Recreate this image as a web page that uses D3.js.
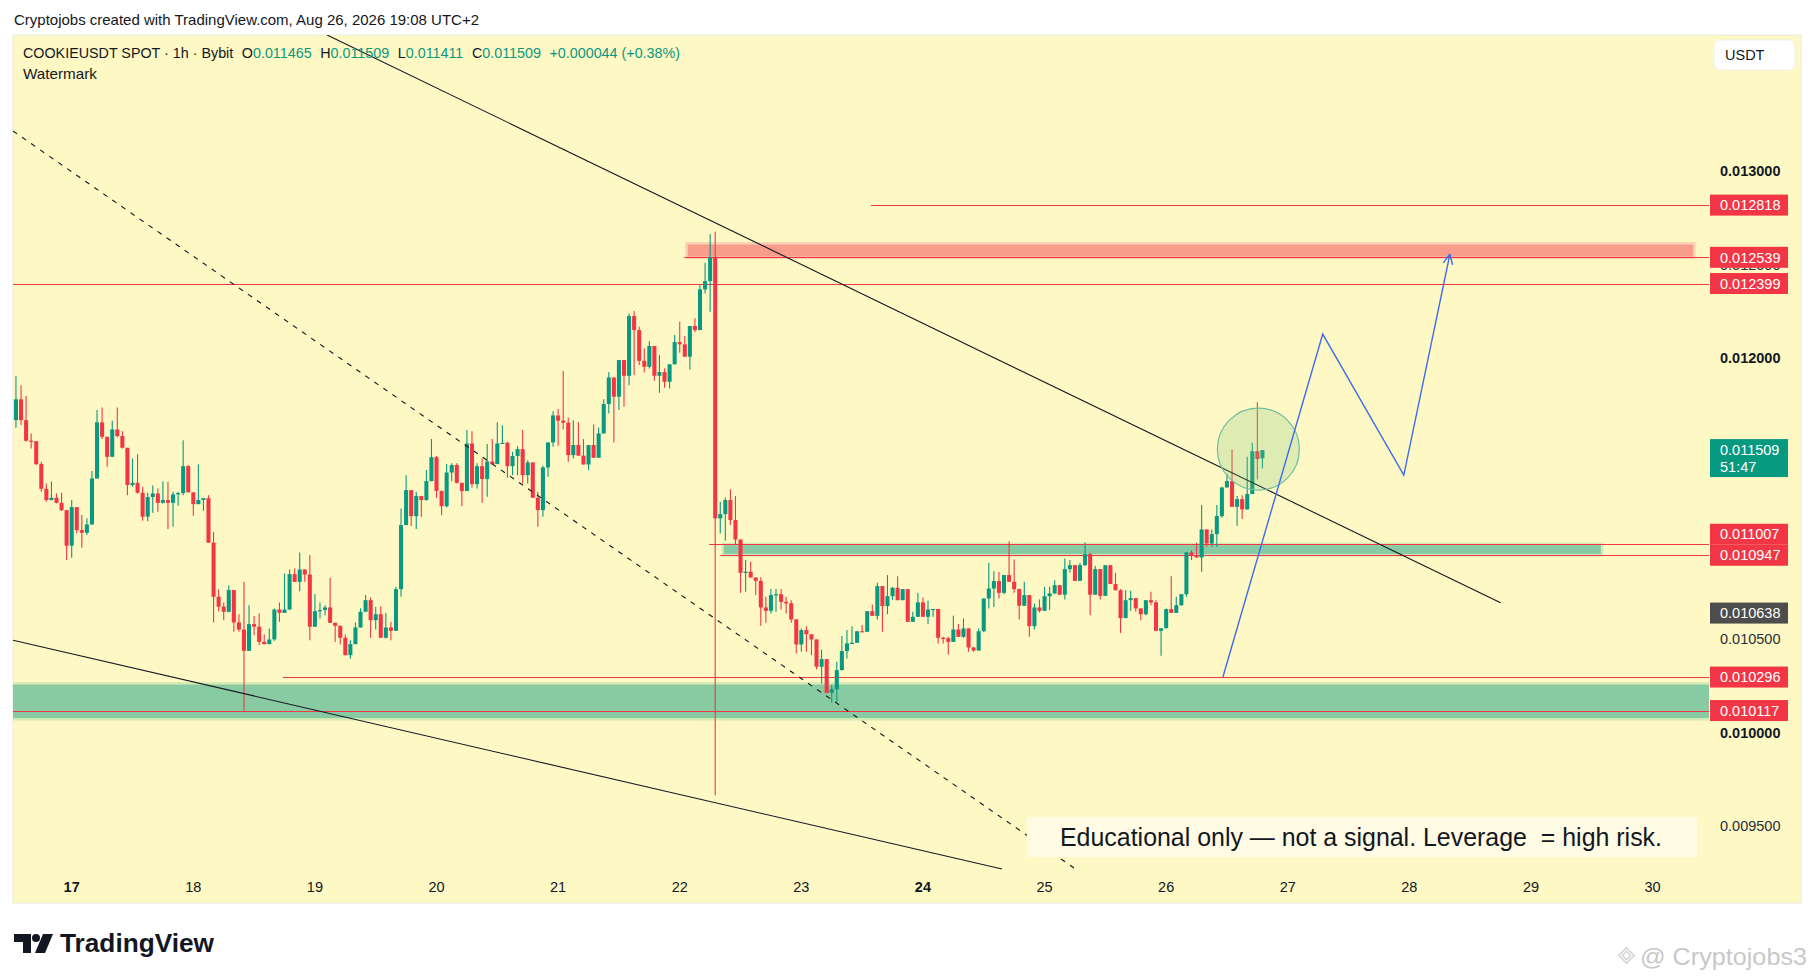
<!DOCTYPE html>
<html>
<head>
<meta charset="utf-8">
<script src="https://cdn.jsdelivr.net/npm/d3@7"></script>
<style>
  html, body { margin: 0; padding: 0; background: #ffffff; }
  svg { display: block; font-family: "Liberation Sans", Arial, sans-serif; }
</style>
</head>
<body>
<svg id="chart"></svg>
<script>
const W = 1814, H = 980;

// ---- data (COOKIEUSDT 1h, Bybit) ----
const firstCandle = new Date(2026, 7, 16, 13);   // one candle per hour from here
const timeWindow = [new Date(2026, 7, 16, 12, 25), new Date(2026, 7, 30, 11, 8)];
const priceWindow = [0.009249, 0.013727];

const opens = [
  0.011669,0.011780,0.011669,0.011559,0.011556,0.011434,0.011302,0.011242,0.011254,0.011227,0.011188,0.010998,
  0.011204,0.011081,0.011067,0.011112,0.011357,0.011657,0.011580,0.011473,0.011619,0.011584,0.011521,0.011322,
  0.011334,0.011281,0.011153,0.011258,0.011277,0.011227,0.011242,0.011227,0.011272,0.011279,0.011423,0.011283,
  0.011220,0.011242,0.011252,0.011014,0.010725,0.010672,0.010645,0.010761,0.010588,0.010550,0.010436,0.010579,
  0.010565,0.010484,0.010472,0.010497,0.010657,0.010639,0.010657,0.010846,0.010805,0.010871,0.010844,0.010565,
  0.010648,0.010654,0.010668,0.010586,0.010570,0.010506,0.010413,0.010472,0.010561,0.010645,0.010707,0.010600,
  0.010632,0.010506,0.010561,0.010543,0.010766,0.011108,0.011295,0.011156,0.011263,0.011242,0.011343,0.011471,
  0.011291,0.011209,0.011389,0.011429,0.011334,0.011290,0.011544,0.011327,0.011423,0.011354,0.011448,0.011434,
  0.011544,0.011548,0.011423,0.011477,0.011514,0.011375,0.011443,0.011254,0.011188,0.011416,0.011550,0.011694,
  0.011666,0.011655,0.011482,0.011536,0.011479,0.011432,0.011536,0.011468,0.011598,0.011755,0.011897,0.011794,
  0.011990,0.011906,0.012225,0.012150,0.011986,0.011954,0.012065,0.011906,0.011926,0.011874,0.011967,0.012086,
  0.012074,0.012008,0.012172,0.012150,0.012368,0.012412,0.012539,0.011144,0.011167,0.011242,0.011135,0.011031,
  0.010853,0.010859,0.010828,0.010810,0.010668,0.010650,0.010734,0.010739,0.010698,0.010690,0.010604,0.010470,
  0.010547,0.010525,0.010497,0.010351,0.010392,0.010212,0.010231,0.010333,0.010435,0.010476,0.010479,0.010541,
  0.010538,0.010648,0.010623,0.010782,0.010675,0.010728,0.010773,0.010707,0.010766,0.010591,0.010618,0.010695,
  0.010618,0.010657,0.010660,0.010506,0.010503,0.010484,0.010550,0.010511,0.010556,0.010454,0.010438,0.010541,
  0.010716,0.010769,0.010809,0.010746,0.010841,0.010805,0.010766,0.010677,0.010734,0.010568,0.010668,0.010650,
  0.010728,0.010743,0.010787,0.010736,0.010873,0.010894,0.010810,0.010894,0.010953,0.010736,0.010873,0.010730,
  0.010894,0.010793,0.010760,0.010611,0.010707,0.010718,0.010663,0.010632,0.010707,0.010695,0.010543,0.010557,
  0.010659,0.010639,0.010680,0.010739,0.010962,0.010948,0.010935,0.011085,0.011010,0.011060,0.011156,0.011309,
  0.011343,0.011206,0.011247,0.011192,0.011274,0.011503,0.011465
];
const highs = [
  0.011904,0.011856,0.011798,0.011598,0.011556,0.011447,0.011331,0.011341,0.011277,0.011281,0.011188,0.011242,
  0.011204,0.011162,0.011145,0.011397,0.011723,0.011737,0.011580,0.011666,0.011737,0.011609,0.011521,0.011464,
  0.011486,0.011313,0.011281,0.011320,0.011304,0.011341,0.011338,0.011286,0.011286,0.011562,0.011429,0.011283,
  0.011432,0.011252,0.011268,0.011071,0.010764,0.010695,0.010787,0.010761,0.010632,0.010805,0.010680,0.010622,
  0.010636,0.010524,0.010556,0.010663,0.010695,0.010850,0.010871,0.010876,0.010962,0.010871,0.010948,0.010739,
  0.010695,0.010680,0.010825,0.010586,0.010570,0.010524,0.010493,0.010588,0.010663,0.010734,0.010721,0.010672,
  0.010675,0.010639,0.010590,0.010778,0.011197,0.011375,0.011295,0.011286,0.011263,0.011402,0.011568,0.011477,
  0.011291,0.011434,0.011438,0.011438,0.011334,0.011616,0.011610,0.011438,0.011464,0.011541,0.011568,0.011657,
  0.011642,0.011553,0.011500,0.011530,0.011616,0.011455,0.011443,0.011286,0.011425,0.011550,0.011717,0.011728,
  0.011931,0.011683,0.011669,0.011657,0.011568,0.011536,0.011646,0.011630,0.011781,0.011926,0.011897,0.011990,
  0.011990,0.012239,0.012252,0.012168,0.012052,0.012091,0.012065,0.012017,0.011945,0.011967,0.012124,0.012195,
  0.012118,0.012172,0.012213,0.012394,0.012510,0.012662,0.012676,0.011233,0.011256,0.011300,0.011263,0.011031,
  0.010921,0.010912,0.010830,0.010830,0.010725,0.010766,0.010766,0.010766,0.010725,0.010707,0.010606,0.010556,
  0.010568,0.010525,0.010497,0.010443,0.010392,0.010253,0.010378,0.010515,0.010547,0.010568,0.010541,0.010574,
  0.010648,0.010684,0.010800,0.010782,0.010841,0.010778,0.010835,0.010766,0.010766,0.010645,0.010746,0.010721,
  0.010704,0.010660,0.010660,0.010511,0.010511,0.010623,0.010579,0.010609,0.010556,0.010458,0.010556,0.010716,
  0.010907,0.010862,0.010858,0.010841,0.011022,0.010924,0.010769,0.010805,0.010734,0.010689,0.010711,0.010778,
  0.010778,0.010814,0.010787,0.010930,0.010921,0.010894,0.010907,0.011015,0.010960,0.010891,0.010873,0.010894,
  0.010894,0.010853,0.010766,0.010760,0.010757,0.010718,0.010663,0.010707,0.010752,0.010707,0.010557,0.010663,
  0.010835,0.010725,0.010739,0.010965,0.010974,0.011014,0.011215,0.011085,0.011085,0.011215,0.011313,0.011384,
  0.011512,0.011263,0.011267,0.011473,0.011548,0.011764,0.011509
];
const lows = [
  0.011628,0.011643,0.011553,0.011518,0.011429,0.011286,0.011233,0.011240,0.011224,0.011183,0.010921,0.010933,
  0.011064,0.010987,0.011055,0.011109,0.011357,0.011568,0.011420,0.011473,0.011577,0.011518,0.011268,0.011313,
  0.011277,0.011131,0.011129,0.011174,0.011179,0.011224,0.011087,0.011099,0.011211,0.011268,0.011283,0.011158,
  0.011220,0.011185,0.011014,0.010588,0.010648,0.010600,0.010641,0.010538,0.010538,0.010117,0.010436,0.010520,
  0.010467,0.010472,0.010472,0.010490,0.010591,0.010639,0.010657,0.010805,0.010755,0.010805,0.010493,0.010565,
  0.010609,0.010627,0.010586,0.010484,0.010470,0.010413,0.010394,0.010472,0.010561,0.010645,0.010506,0.010550,
  0.010506,0.010502,0.010493,0.010543,0.010725,0.011108,0.011103,0.011087,0.011152,0.011238,0.011343,0.011254,
  0.011161,0.011202,0.011343,0.011331,0.011209,0.011290,0.011309,0.011304,0.011227,0.011259,0.011429,0.011434,
  0.011544,0.011361,0.011375,0.011375,0.011331,0.011331,0.011254,0.011099,0.011153,0.011366,0.011527,0.011532,
  0.011619,0.011447,0.011464,0.011479,0.011432,0.011402,0.011468,0.011468,0.011598,0.011705,0.011550,0.011723,
  0.011740,0.011856,0.011910,0.011963,0.011924,0.011945,0.011879,0.011815,0.011842,0.011838,0.011967,0.012029,
  0.012008,0.011940,0.012138,0.012150,0.012346,0.012248,0.009665,0.011063,0.011024,0.011108,0.011006,0.010746,
  0.010752,0.010828,0.010734,0.010570,0.010586,0.010636,0.010645,0.010657,0.010636,0.010586,0.010422,0.010431,
  0.010431,0.010413,0.010337,0.010262,0.010208,0.010160,0.010164,0.010333,0.010395,0.010476,0.010479,0.010538,
  0.010538,0.010623,0.010604,0.010538,0.010632,0.010707,0.010707,0.010707,0.010591,0.010591,0.010618,0.010618,
  0.010579,0.010618,0.010476,0.010476,0.010417,0.010484,0.010511,0.010506,0.010431,0.010431,0.010436,0.010536,
  0.010663,0.010671,0.010716,0.010739,0.010805,0.010746,0.010604,0.010677,0.010511,0.010550,0.010641,0.010650,
  0.010654,0.010739,0.010734,0.010711,0.010853,0.010810,0.010810,0.010890,0.010627,0.010736,0.010711,0.010730,
  0.010793,0.010760,0.010532,0.010611,0.010650,0.010645,0.010600,0.010627,0.010680,0.010543,0.010410,0.010557,
  0.010639,0.010639,0.010677,0.010725,0.010921,0.010935,0.010859,0.010992,0.010992,0.010992,0.011147,0.011309,
  0.011206,0.011104,0.011140,0.011192,0.011274,0.011352,0.011411
];
const closes = [
  0.011780,0.011669,0.011559,0.011556,0.011434,0.011302,0.011242,0.011254,0.011227,0.011188,0.010998,0.011204,
  0.011081,0.011067,0.011112,0.011357,0.011657,0.011580,0.011473,0.011619,0.011584,0.011521,0.011322,0.011334,
  0.011281,0.011153,0.011258,0.011277,0.011227,0.011242,0.011227,0.011272,0.011279,0.011423,0.011283,0.011220,
  0.011242,0.011252,0.011014,0.010725,0.010672,0.010645,0.010761,0.010588,0.010550,0.010436,0.010579,0.010565,
  0.010484,0.010472,0.010497,0.010657,0.010639,0.010657,0.010846,0.010805,0.010871,0.010844,0.010565,0.010648,
  0.010654,0.010668,0.010586,0.010570,0.010506,0.010413,0.010472,0.010561,0.010645,0.010707,0.010600,0.010632,
  0.010506,0.010561,0.010543,0.010766,0.011108,0.011295,0.011156,0.011263,0.011242,0.011343,0.011471,0.011291,
  0.011209,0.011389,0.011429,0.011334,0.011290,0.011544,0.011327,0.011423,0.011354,0.011448,0.011434,0.011544,
  0.011548,0.011423,0.011477,0.011514,0.011375,0.011443,0.011254,0.011188,0.011416,0.011550,0.011694,0.011666,
  0.011655,0.011482,0.011536,0.011479,0.011432,0.011536,0.011468,0.011598,0.011755,0.011897,0.011794,0.011990,
  0.011906,0.012225,0.012150,0.011986,0.011954,0.012065,0.011906,0.011926,0.011874,0.011967,0.012086,0.012074,
  0.012008,0.012172,0.012150,0.012368,0.012412,0.012539,0.011144,0.011167,0.011242,0.011135,0.011031,0.010853,
  0.010859,0.010828,0.010810,0.010668,0.010650,0.010734,0.010739,0.010698,0.010690,0.010604,0.010470,0.010547,
  0.010525,0.010497,0.010351,0.010392,0.010212,0.010231,0.010333,0.010435,0.010476,0.010479,0.010541,0.010538,
  0.010648,0.010623,0.010782,0.010675,0.010728,0.010773,0.010707,0.010766,0.010591,0.010618,0.010695,0.010618,
  0.010657,0.010660,0.010506,0.010503,0.010484,0.010550,0.010511,0.010556,0.010454,0.010438,0.010541,0.010716,
  0.010769,0.010809,0.010746,0.010841,0.010805,0.010766,0.010677,0.010734,0.010568,0.010668,0.010650,0.010728,
  0.010743,0.010787,0.010736,0.010873,0.010894,0.010810,0.010894,0.010953,0.010736,0.010873,0.010730,0.010894,
  0.010793,0.010760,0.010611,0.010707,0.010718,0.010663,0.010632,0.010707,0.010695,0.010543,0.010557,0.010659,
  0.010639,0.010680,0.010739,0.010962,0.010948,0.010935,0.011085,0.011010,0.011060,0.011156,0.011309,0.011343,
  0.011206,0.011247,0.011192,0.011274,0.011503,0.011461,0.011509
];

const priceTicks = [0.0095, 0.0100, 0.0105, 0.0110, 0.0115, 0.0120, 0.0125, 0.0130];

// horizontal levels drawn on the chart (null start -> from the left edge)
const levelPrices = [0.012818, 0.012539, 0.012399, 0.011007, 0.010947, 0.010296, 0.010117];
const levelStarts = [
  new Date(2026, 7, 23, 13, 45), new Date(2026, 7, 22, 0, 54), null,
  new Date(2026, 7, 22, 5, 48), new Date(2026, 7, 22, 8, 0), new Date(2026, 7, 18, 17, 42), null
];

// rectangles: top price, bottom price, start, end
const zoneTops = [0.012607, 0.011001, 0.010256];
const zoneBottoms = [0.012543, 0.010953, 0.010077];
const zoneStarts = [new Date(2026, 7, 22, 1, 36), new Date(2026, 7, 22, 8, 42), null];
const zoneEnds = [new Date(2026, 7, 30, 8, 0), new Date(2026, 7, 29, 13, 48), null];

// trend lines: start / end points (time, price)
const trendStarts = [
  [new Date(2026, 7, 19, 2, 24), 0.013727],
  [new Date(2026, 7, 16, 12, 25), 0.013214],
  [new Date(2026, 7, 16, 12, 25), 0.010493]
];
const trendEnds = [
  [new Date(2026, 7, 28, 18, 0), 0.010693],
  [new Date(2026, 7, 25, 5, 48), 0.009276],
  [new Date(2026, 7, 24, 15, 36), 0.009270]
];

// projected path (blue)
const pathTimes = [new Date(2026, 7, 26, 11, 12), new Date(2026, 7, 27, 6, 54), new Date(2026, 7, 27, 22, 54), new Date(2026, 7, 28, 8, 0)];
const pathPrices = [0.010296, 0.012129, 0.011375, 0.012556];

// highlight circle: centre and a point on the rim
const circleCentre = [new Date(2026, 7, 26, 18, 12), 0.011514];
const circleRimPrice = 0.011733;

const lastPrice = 0.011509, countdown = "51:47", markPrice = 0.010638;

// ---- layout ----
const plot = {left: 13, right: 1709, top: 35, bottom: 873};
const panel = {left: 13, right: 1801, top: 35, bottom: 903};
const UP = "#089981", DOWN = "#f23645", INK = "#131722";

const svg = d3.select("#chart").attr("width", W).attr("height", H);

const x = d3.scaleTime().domain(timeWindow).range([plot.left, plot.right]);
const y = d3.scaleLinear().domain(priceWindow).range([plot.bottom, plot.top]);

svg.append("rect").attr("width", W).attr("height", H).attr("fill", "#ffffff");
svg.append("rect")
  .attr("x", panel.left).attr("y", panel.top)
  .attr("width", panel.right - panel.left).attr("height", panel.bottom - panel.top)
  .attr("fill", "#fef8c4").attr("stroke", "#eceadb");

svg.append("clipPath").attr("id", "plotClip").append("rect")
  .attr("x", plot.left).attr("y", plot.top)
  .attr("width", plot.right - plot.left).attr("height", plot.bottom - plot.top);

const main = svg.append("g").attr("clip-path", "url(#plotClip)");

// zones
const zoneFill = ["#f89c8b", "#88cba2", "#88cba2"];
const zoneEdge = ["#fbd1b3", "#d6ebb4", "#d6ebb4"];
zoneTops.forEach((top, i) => {
  const x0 = zoneStarts[i] ? x(zoneStarts[i]) : plot.left - 5;
  const x1 = zoneEnds[i] ? x(zoneEnds[i]) : plot.right + 5;
  const y0 = y(top), y1 = y(zoneBottoms[i]);
  main.append("rect").attr("x", x0 - 2.5).attr("y", y0 - 2.5)
    .attr("width", x1 - x0 + 5).attr("height", y1 - y0 + 5).attr("fill", zoneEdge[i]);
  main.append("rect").attr("x", x0).attr("y", y0)
    .attr("width", x1 - x0).attr("height", y1 - y0).attr("fill", zoneFill[i]);
});

// level lines
levelPrices.forEach((p, i) => {
  const yy = Math.round(y(p)) + 0.5;
  main.append("line")
    .attr("x1", levelStarts[i] ? x(levelStarts[i]) : plot.left).attr("x2", plot.right)
    .attr("y1", yy).attr("y2", yy)
    .attr("stroke", DOWN).attr("stroke-width", 1);
});

// candles
const candles = closes.map((c, i) => ({
  t: d3.timeHour.offset(firstCandle, i), o: opens[i], h: highs[i], l: lows[i], c: c
}));
const step = x(d3.timeHour.offset(firstCandle, 1)) - x(firstCandle);
const bodyW = step * 0.8;

const candleG = main.append("g");
candleG.selectAll("line.wick").data(candles).enter().append("line")
  .attr("class", "wick")
  .attr("x1", d => x(d.t)).attr("x2", d => x(d.t))
  .attr("y1", d => y(d.h)).attr("y2", d => y(d.l))
  .attr("stroke", d => d.c >= d.o ? UP : DOWN).attr("stroke-width", 1.1);
candleG.selectAll("rect.body").data(candles).enter().append("rect")
  .attr("class", "body")
  .attr("x", d => x(d.t) - bodyW / 2)
  .attr("y", d => y(Math.max(d.o, d.c)))
  .attr("width", bodyW)
  .attr("height", d => Math.max(1.2, Math.abs(y(d.o) - y(d.c))))
  .attr("fill", d => d.c >= d.o ? UP : DOWN);

// trend lines
trendStarts.forEach((s, i) => {
  main.append("line")
    .attr("x1", x(s[0])).attr("y1", y(s[1]))
    .attr("x2", x(trendEnds[i][0])).attr("y2", y(trendEnds[i][1]))
    .attr("stroke", INK).attr("stroke-width", 1.1)
    .attr("stroke-dasharray", i === 1 ? "5,6" : null);
});

// highlight circle
const cx = x(circleCentre[0]), cy = y(circleCentre[1]);
main.append("circle")
  .attr("cx", cx).attr("cy", cy).attr("r", cy - y(circleRimPrice))
  .attr("fill", "rgba(129,199,132,0.25)").attr("stroke", "#6cbf9c").attr("stroke-width", 1.2);

// projected path with arrow
const pathPts = pathTimes.map((t, i) => [x(t), y(pathPrices[i])]);
main.append("path").attr("d", d3.line()(pathPts))
  .attr("fill", "none").attr("stroke", "#3a6cf0").attr("stroke-width", 1.4);
const tip = pathPts[pathPts.length - 1], prev = pathPts[pathPts.length - 2];
const ang = Math.atan2(prev[1] - tip[1], prev[0] - tip[0]);
[-0.45, 0.45].forEach(da => {
  main.append("line")
    .attr("x1", tip[0]).attr("y1", tip[1])
    .attr("x2", tip[0] + 11 * Math.cos(ang + da)).attr("y2", tip[1] + 11 * Math.sin(ang + da))
    .attr("stroke", "#3a6cf0").attr("stroke-width", 1.4);
});

// note box
const note = svg.append("g");
note.append("rect").attr("x", 1027).attr("y", 817).attr("width", 670).attr("height", 40).attr("fill", "#fffbe4");
note.append("text").attr("x", 1060).attr("y", 846)
  .attr("font-size", 26).attr("fill", INK).style("white-space", "pre")
  .attr("textLength", 602).attr("lengthAdjust", "spacingAndGlyphs")
  .text("Educational only \u2014 not a signal. Leverage  = high risk.");

// ---- price axis labels (drawn first, so ticks can be hidden under them) ----
const axisX = 1720;
const labels = levelPrices.map(p => ({p: p, fill: DOWN, cy: y(p)}));
labels.push({p: markPrice, fill: "#4d4d4d", cy: y(markPrice)});
labels.sort((a, b) => b.cy - a.cy);
for (let i = 1; i < labels.length; i++) {
  const below = labels[i - 1];
  if (labels[i].cy + 10.5 > below.cy - 10.5) labels[i].cy = below.cy - 21;
}
const ly = y(lastPrice);
const boxes = labels.map(l => [l.cy - 10.5, l.cy + 10.5]);
boxes.push([ly - 11, ly + 27]);
const covered = v => boxes.some(b => v >= b[0] - 0.5 && v <= b[1] + 0.5);

const tickG = svg.append("g");
priceTicks.forEach(p => {
  const ty = y(p);
  if (covered(ty - 5) && covered(ty) && covered(ty + 5)) return;   // hidden behind labels
  const whole = Math.abs(p * 1000 - Math.round(p * 1000)) < 1e-9;
  tickG.append("text")
    .attr("x", axisX).attr("y", ty).attr("dy", "0.35em")
    .attr("font-size", 14.5).attr("font-weight", whole ? 700 : 400)
    .attr("fill", whole ? INK : "#2a2e39")
    .text(d3.format(".6f")(p));
});

const labelG = svg.append("g");
labels.forEach(l => {
  labelG.append("rect").attr("x", 1710).attr("y", l.cy - 10.5).attr("width", 78).attr("height", 21)
    .attr("fill", l.fill);
  labelG.append("text").attr("x", axisX).attr("y", l.cy).attr("dy", "0.36em")
    .attr("font-size", 14.5).attr("fill", "#ffffff").text(d3.format(".6f")(l.p));
});
// last price + countdown
labelG.append("rect").attr("x", 1710).attr("y", ly - 11).attr("width", 78).attr("height", 38).attr("fill", UP);
labelG.append("text").attr("x", axisX).attr("y", ly).attr("dy", "0.36em")
  .attr("font-size", 14.5).attr("fill", "#ffffff").text(d3.format(".6f")(lastPrice));
labelG.append("text").attr("x", axisX).attr("y", ly + 17).attr("dy", "0.36em")
  .attr("font-size", 14.5).attr("fill", "#ffffff").text(countdown);

// ---- time axis ----
const days = d3.timeDay.range(new Date(2026, 7, 17), new Date(2026, 7, 31));
svg.append("g").selectAll("text").data(days).enter().append("text")
  .attr("x", d => x(d)).attr("y", 887).attr("dy", "0.35em")
  .attr("text-anchor", "middle").attr("font-size", 14.5)
  .attr("font-weight", d => d.getDay() === 1 ? 700 : 400)   // week start in bold
  .attr("fill", INK)
  .text(d3.timeFormat("%-d"));

// ---- header / legend ----
svg.append("text").attr("x", 14).attr("y", 25).attr("font-size", 15).attr("fill", INK)
  .attr("textLength", 465).attr("lengthAdjust", "spacingAndGlyphs")
  .text("Cryptojobs created with TradingView.com, Aug 26, 2026 19:08 UTC+2");

const legend = svg.append("text").attr("x", 23).attr("y", 58).attr("font-size", 15)
  .attr("textLength", 657).attr("lengthAdjust", "spacingAndGlyphs");
const n = closes.length - 1;
const ohlc = [["O", opens[n]], ["H", highs[n]], ["L", lows[n]], ["C", closes[n]]];
legend.append("tspan").attr("fill", INK).text("COOKIEUSDT SPOT \u00b7 1h \u00b7 Bybit");
ohlc.forEach(([k, v]) => {
  legend.append("tspan").attr("fill", INK).attr("dx", 9).text(k);
  legend.append("tspan").attr("fill", UP).text(d3.format(".6f")(v));
});
legend.append("tspan").attr("fill", UP).attr("dx", 9).text("+0.000044 (+0.38%)");

svg.append("text").attr("x", 23).attr("y", 79).attr("font-size", 15).attr("fill", INK)
  .attr("textLength", 74).attr("lengthAdjust", "spacingAndGlyphs").text("Watermark");

// currency button
svg.append("rect").attr("x", 1714).attr("y", 40).attr("width", 81).attr("height", 30).attr("rx", 6)
  .attr("fill", "#ffffff").attr("stroke", "#f0f0f0");
svg.append("text").attr("x", 1725).attr("y", 55).attr("dy", "0.35em").attr("font-size", 14.5)
  .attr("fill", INK).text("USDT");

// ---- footer ----
const logo = svg.append("g").attr("fill", INK);
logo.append("path").attr("d", "M14,934 H31 V953 H23 V942 H14 Z");
logo.append("circle").attr("cx", 36).attr("cy", 938).attr("r", 4);
logo.append("path").attr("d", "M43,934 H53 L45,953 H35 Z");
svg.append("text").attr("x", 60).attr("y", 952).attr("font-size", 26).attr("font-weight", 700)
  .attr("fill", INK).attr("textLength", 154).attr("lengthAdjust", "spacingAndGlyphs").text("TradingView");

const mark = svg.append("g").attr("fill", "none").attr("stroke", "#cfcfcf").attr("stroke-width", 1.3);
mark.append("rect").attr("x", 1621).attr("y", 950).attr("width", 11).attr("height", 11)
  .attr("transform", "rotate(45 1626.5 955.5)");
mark.append("rect").attr("x", 1623.5).attr("y", 952.5).attr("width", 6).attr("height", 6)
  .attr("transform", "rotate(45 1626.5 955.5)");
svg.append("text").attr("x", 1640).attr("y", 965).attr("font-size", 24).attr("fill", "#c8c8c8")
  .attr("textLength", 167).attr("lengthAdjust", "spacingAndGlyphs").text("@ Cryptojobs3");
</script>
</body>
</html>
